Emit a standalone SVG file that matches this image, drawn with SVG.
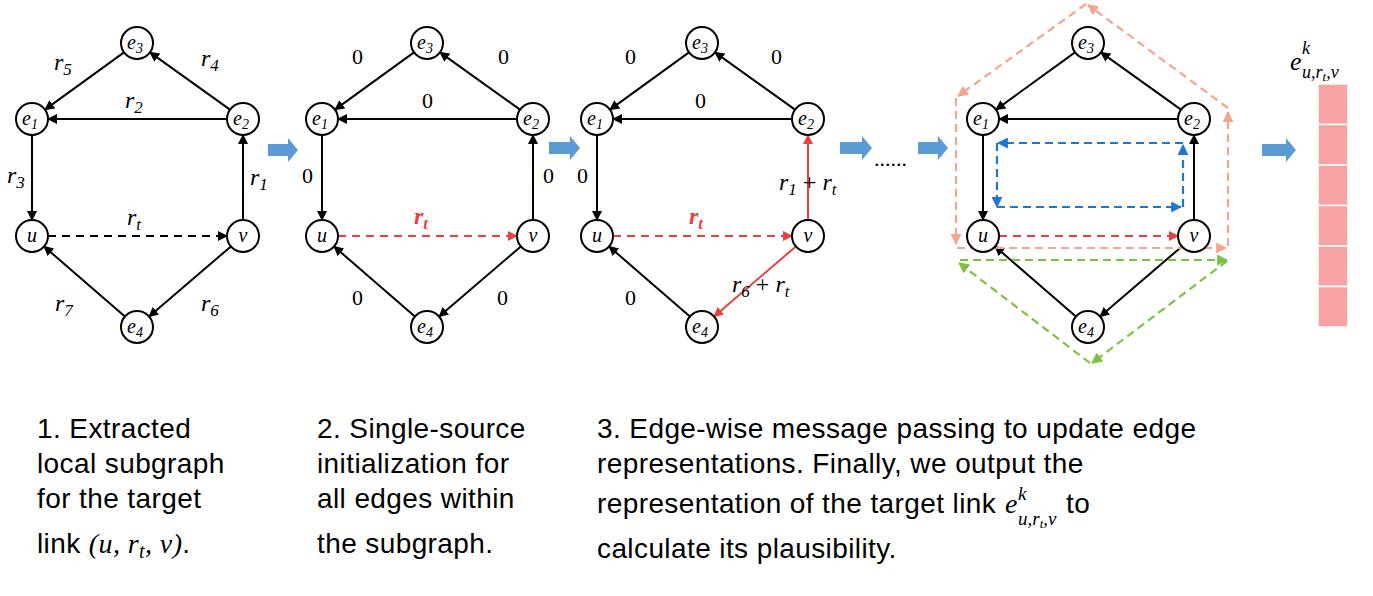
<svg xmlns="http://www.w3.org/2000/svg" width="1373" height="596" viewBox="0 0 1373 596">
<style>
.n circle{fill:#fff;stroke:#000;stroke-width:2}
.n text,.lb{font-family:"Liberation Serif",serif;font-style:italic;font-size:24px}
.n text{font-size:20px;text-anchor:middle}
.e{stroke:#000;stroke-width:2;fill:none;marker-end:url(#ak)}
.d{stroke-dasharray:8,6}
.r{stroke:#e8423f;marker-end:url(#ar)}
.cap{font-family:"Liberation Sans",Arial,sans-serif;font-size:28px;letter-spacing:0.4px}
.ba{fill:#5b9bd5}
.z{font-family:"Liberation Serif",serif;font-size:22px}
.m{font-family:"Liberation Serif",serif;font-style:italic}
</style>
<defs>
<marker id="ak" viewBox="0 0 10 10" refX="9" refY="5" markerWidth="5" markerHeight="5" orient="auto"><path d="M0,0L10,5L0,10z" fill="#000"/></marker>
<marker id="ar" viewBox="0 0 10 10" refX="9" refY="5" markerWidth="5" markerHeight="5" orient="auto"><path d="M0,0L10,5L0,10z" fill="#e8423f"/></marker>
<marker id="ao" viewBox="0 0 10 10" refX="9" refY="5" markerWidth="5" markerHeight="5" orient="auto"><path d="M0,0L10,5L0,10z" fill="#f4a58c"/></marker>
<marker id="ab" viewBox="0 0 10 10" refX="9" refY="5" markerWidth="5" markerHeight="5" orient="auto"><path d="M0,0L10,5L0,10z" fill="#1f77d0"/></marker>
<marker id="ag" viewBox="0 0 10 10" refX="9" refY="5" markerWidth="5" markerHeight="5" orient="auto"><path d="M0,0L10,5L0,10z" fill="#7cc242"/></marker>
</defs>

<g id="connectors">
 <g id="c1">
  <line class="e" x1="124" y1="52.4" x2="45" y2="109.6"/>
  <line class="e" x1="230" y1="109.6" x2="150" y2="52.4"/>
  <line class="e" x1="227" y1="119" x2="48" y2="119"/>
  <line class="e" x1="32" y1="135" x2="32" y2="220"/>
  <line class="e" x1="243" y1="220" x2="243" y2="135"/>
  <line class="e d" x1="48" y1="236" x2="227" y2="236"/>
  <line class="e" x1="230.9" y1="246.4" x2="149.1" y2="316.6"/>
  <line class="e" x1="124.9" y1="316.5" x2="44.1" y2="246.5"/>
 </g>
 <g id="c2" transform="translate(290,0)">
  <line class="e" x1="124" y1="52.4" x2="45" y2="109.6"/>
  <line class="e" x1="230" y1="109.6" x2="150" y2="52.4"/>
  <line class="e" x1="227" y1="119" x2="48" y2="119"/>
  <line class="e" x1="32" y1="135" x2="32" y2="220"/>
  <line class="e" x1="243" y1="220" x2="243" y2="135"/>
  <line class="e d r" x1="48" y1="236" x2="227" y2="236"/>
  <line class="e" x1="230.9" y1="246.4" x2="149.1" y2="316.6"/>
  <line class="e" x1="124.9" y1="316.5" x2="44.1" y2="246.5"/>
 </g>
 <g id="c3" transform="translate(565,0)">
  <line class="e" x1="124" y1="52.4" x2="45" y2="109.6"/>
  <line class="e" x1="230" y1="109.6" x2="150" y2="52.4"/>
  <line class="e" x1="227" y1="119" x2="48" y2="119"/>
  <line class="e" x1="32" y1="135" x2="32" y2="220"/>
  <line class="e r" x1="243" y1="220" x2="243" y2="135"/>
  <line class="e d r" x1="48" y1="236" x2="227" y2="236"/>
  <line class="e r" x1="230.9" y1="246.4" x2="149.1" y2="316.6"/>
  <line class="e" x1="124.9" y1="316.5" x2="44.1" y2="246.5"/>
 </g>
 <g id="c4" transform="translate(951,0)">
  <line class="e" x1="124" y1="52.4" x2="45" y2="109.6"/>
  <line class="e" x1="230" y1="109.6" x2="150" y2="52.4"/>
  <line class="e" x1="227" y1="119" x2="48" y2="119"/>
  <line class="e" x1="32" y1="135" x2="32" y2="220"/>
  <line class="e" x1="243" y1="220" x2="243" y2="135"/>
  <line class="e d r" x1="48" y1="236" x2="227" y2="236"/>
  <line class="e" x1="230.9" y1="246.4" x2="149.1" y2="316.6"/>
  <line class="e" x1="124.9" y1="316.5" x2="44.1" y2="246.5"/>
 </g>
 <g id="paths" fill="none" stroke-width="2.2" stroke-dasharray="8,5">
  <g stroke="#f4a58c">
   <line x1="957" y1="248" x2="1226" y2="248" marker-end="url(#ao)"/>
   <line x1="1228" y1="246" x2="1228" y2="112" marker-end="url(#ao)"/>
   <line x1="1228" y1="108" x2="1088" y2="5" marker-end="url(#ao)"/>
   <line x1="1086" y1="4" x2="958" y2="96" marker-end="url(#ao)"/>
   <line x1="956" y1="98" x2="956" y2="244" marker-end="url(#ao)"/>
  </g>
  <g stroke="#1f77d0">
   <line x1="1183" y1="143" x2="998" y2="143" marker-end="url(#ab)"/>
   <line x1="997" y1="143" x2="997" y2="207" marker-end="url(#ab)"/>
   <line x1="997" y1="207" x2="1181" y2="207" marker-end="url(#ab)"/>
   <line x1="1183" y1="207" x2="1183" y2="145" marker-end="url(#ab)"/>
  </g>
  <g stroke="#7cc242">
   <line x1="960" y1="260" x2="1227" y2="260" marker-end="url(#ag)"/>
   <line x1="1227" y1="261" x2="1092" y2="363" marker-end="url(#ag)"/>
   <line x1="1090" y1="363" x2="959" y2="263" marker-end="url(#ag)"/>
  </g>
 </g>
</g>

<g id="graph1">
 <g id="g1-e3" class="n"><circle cx="137" cy="43" r="16"/><text x="135" y="49">e<tspan font-size="14" dy="4">3</tspan></text></g>
 <g id="g1-e1" class="n"><circle cx="32" cy="119" r="16"/><text x="30" y="125">e<tspan font-size="14" dy="4">1</tspan></text></g>
 <g id="g1-e2" class="n"><circle cx="243" cy="119" r="16"/><text x="241" y="125">e<tspan font-size="14" dy="4">2</tspan></text></g>
 <g id="g1-u" class="n"><circle cx="32" cy="236" r="16"/><text x="32" y="242">u</text></g>
 <g id="g1-v" class="n"><circle cx="243" cy="236" r="16"/><text x="243" y="242">v</text></g>
 <g id="g1-e4" class="n"><circle cx="137" cy="327" r="16"/><text x="135" y="333">e<tspan font-size="14" dy="4">4</tspan></text></g>
 <text class="lb" x="54" y="70">r<tspan font-size="17" dy="5">5</tspan></text>
 <text class="lb" x="201" y="66">r<tspan font-size="17" dy="5">4</tspan></text>
 <text class="lb" x="125" y="108">r<tspan font-size="17" dy="5">2</tspan></text>
 <text class="lb" x="7" y="183">r<tspan font-size="17" dy="5">3</tspan></text>
 <text class="lb" x="250" y="185">r<tspan font-size="17" dy="5">1</tspan></text>
 <text class="lb" x="127" y="225">r<tspan font-size="17" dy="5">t</tspan></text>
 <text class="lb" x="55" y="311">r<tspan font-size="17" dy="5">7</tspan></text>
 <text class="lb" x="201" y="311">r<tspan font-size="17" dy="5">6</tspan></text>
</g>

<g id="graph2" transform="translate(290,0)">
 <g id="g2-e3" class="n"><circle cx="137" cy="43" r="16"/><text x="135" y="49">e<tspan font-size="14" dy="4">3</tspan></text></g>
 <g id="g2-e1" class="n"><circle cx="32" cy="119" r="16"/><text x="30" y="125">e<tspan font-size="14" dy="4">1</tspan></text></g>
 <g id="g2-e2" class="n"><circle cx="243" cy="119" r="16"/><text x="241" y="125">e<tspan font-size="14" dy="4">2</tspan></text></g>
 <g id="g2-u" class="n"><circle cx="32" cy="236" r="16"/><text x="32" y="242">u</text></g>
 <g id="g2-v" class="n"><circle cx="243" cy="236" r="16"/><text x="243" y="242">v</text></g>
 <g id="g2-e4" class="n"><circle cx="137" cy="327" r="16"/><text x="135" y="333">e<tspan font-size="14" dy="4">4</tspan></text></g>
 <text class="z" x="62" y="64">0</text>
 <text class="z" x="208" y="64">0</text>
 <text class="z" x="132" y="108">0</text>
 <text class="z" x="12" y="183">0</text>
 <text class="z" x="253" y="183">0</text>
 <text class="lb" x="124" y="224" fill="#e8423f" font-weight="bold">r<tspan font-size="17" dy="5">t</tspan></text>
 <text class="z" x="62" y="305">0</text>
 <text class="z" x="207" y="305">0</text>
</g>

<g id="graph3" transform="translate(565,0)">
 <g id="g3-e3" class="n"><circle cx="137" cy="43" r="16"/><text x="135" y="49">e<tspan font-size="14" dy="4">3</tspan></text></g>
 <g id="g3-e1" class="n"><circle cx="32" cy="119" r="16"/><text x="30" y="125">e<tspan font-size="14" dy="4">1</tspan></text></g>
 <g id="g3-e2" class="n"><circle cx="243" cy="119" r="16"/><text x="241" y="125">e<tspan font-size="14" dy="4">2</tspan></text></g>
 <g id="g3-u" class="n"><circle cx="32" cy="236" r="16"/><text x="32" y="242">u</text></g>
 <g id="g3-v" class="n"><circle cx="243" cy="236" r="16"/><text x="243" y="242">v</text></g>
 <g id="g3-e4" class="n"><circle cx="137" cy="327" r="16"/><text x="135" y="333">e<tspan font-size="14" dy="4">4</tspan></text></g>
 <text class="z" x="60" y="64">0</text>
 <text class="z" x="206" y="64">0</text>
 <text class="z" x="130" y="108">0</text>
 <text class="z" x="12" y="183">0</text>
 <text class="lb" x="214" y="190">r<tspan font-size="17" dy="5">1</tspan><tspan font-style="normal" dy="-5"> + </tspan>r<tspan font-size="17" dy="5">t</tspan></text>
 <text class="lb" x="124" y="224" fill="#e8423f" font-weight="bold">r<tspan font-size="17" dy="5">t</tspan></text>
 <text class="z" x="60" y="305">0</text>
 <text class="lb" x="167" y="292">r<tspan font-size="17" dy="5">6</tspan><tspan font-style="normal" dy="-5"> + </tspan>r<tspan font-size="17" dy="5">t</tspan></text>
</g>

<g id="graph4" transform="translate(951,0)">
 <g id="g4-e3" class="n"><circle cx="137" cy="43" r="16"/><text x="135" y="49">e<tspan font-size="14" dy="4">3</tspan></text></g>
 <g id="g4-e1" class="n"><circle cx="32" cy="119" r="16"/><text x="30" y="125">e<tspan font-size="14" dy="4">1</tspan></text></g>
 <g id="g4-e2" class="n"><circle cx="243" cy="119" r="16"/><text x="241" y="125">e<tspan font-size="14" dy="4">2</tspan></text></g>
 <g id="g4-u" class="n"><circle cx="32" cy="236" r="16"/><text x="32" y="242">u</text></g>
 <g id="g4-v" class="n"><circle cx="243" cy="236" r="16"/><text x="243" y="242">v</text></g>
 <g id="g4-e4" class="n"><circle cx="137" cy="327" r="16"/><text x="135" y="333">e<tspan font-size="14" dy="4">4</tspan></text></g>
</g>

<g id="flow-arrows">
 <path class="ba" d="M268,144h20v-6l10,12l-10,12v-6h-20z"/>
 <path class="ba" d="M549,142h21v-6l10,12l-10,12v-6h-21z"/>
 <path class="ba" d="M840,142h22v-6l10,12l-10,12v-6h-22z"/>
 <path class="ba" d="M918,142h20v-6l10,12l-10,12v-6h-20z"/>
 <path class="ba" d="M1262,144h24v-6l10,12l-10,12v-6h-24z"/>
 <text class="z" x="874" y="166" font-size="26">......</text>
</g>

<g id="vector">
 <text class="m" x="1290" y="70" font-size="26">e</text>
 <text class="m" x="1302" y="54" font-size="18">k</text>
 <text class="m" x="1302" y="78" font-size="18">u,r<tspan font-size="13" dy="3">t</tspan><tspan dy="-3">,v</tspan></text>
 <g fill="#f7a3a3" stroke="#fff" stroke-width="1.5">
  <rect x="1318" y="84" width="30" height="40.5"/>
  <rect x="1318" y="124.5" width="30" height="40.5"/>
  <rect x="1318" y="165" width="30" height="40.5"/>
  <rect x="1318" y="205.5" width="30" height="40.5"/>
  <rect x="1318" y="246" width="30" height="40.5"/>
  <rect x="1318" y="286.5" width="30" height="40.5"/>
 </g>
</g>

<g id="captions" class="cap">
 <text x="37" y="438">1. Extracted</text>
 <text x="37" y="473">local subgraph</text>
 <text x="37" y="508">for the target</text>
 <text x="37" y="553">link <tspan font-family="Liberation Serif" font-style="italic">(u, r<tspan font-size="20" dy="5">t</tspan><tspan dy="-5">, v)</tspan></tspan>.</text>
 <text x="317" y="438">2. Single-source</text>
 <text x="317" y="473">initialization for</text>
 <text x="317" y="508">all edges within</text>
 <text x="317" y="553">the subgraph.</text>
 <text x="597" y="438">3. Edge-wise message passing to update edge</text>
 <text x="597" y="473">representations. Finally, we output the</text>
 <text x="597" y="513">representation of the target link</text>
 <text class="m" x="1005" y="513" font-size="28" letter-spacing="0">e</text>
 <text class="m" x="1018" y="500" font-size="19" letter-spacing="0">k</text>
 <text class="m" x="1018" y="525" font-size="19" letter-spacing="0">u,r<tspan font-size="13" dy="3">t</tspan><tspan dy="-3">,v</tspan></text>
 <text x="1066" y="513">to</text>
 <text x="597" y="558">calculate its plausibility.</text>
</g>
</svg>
